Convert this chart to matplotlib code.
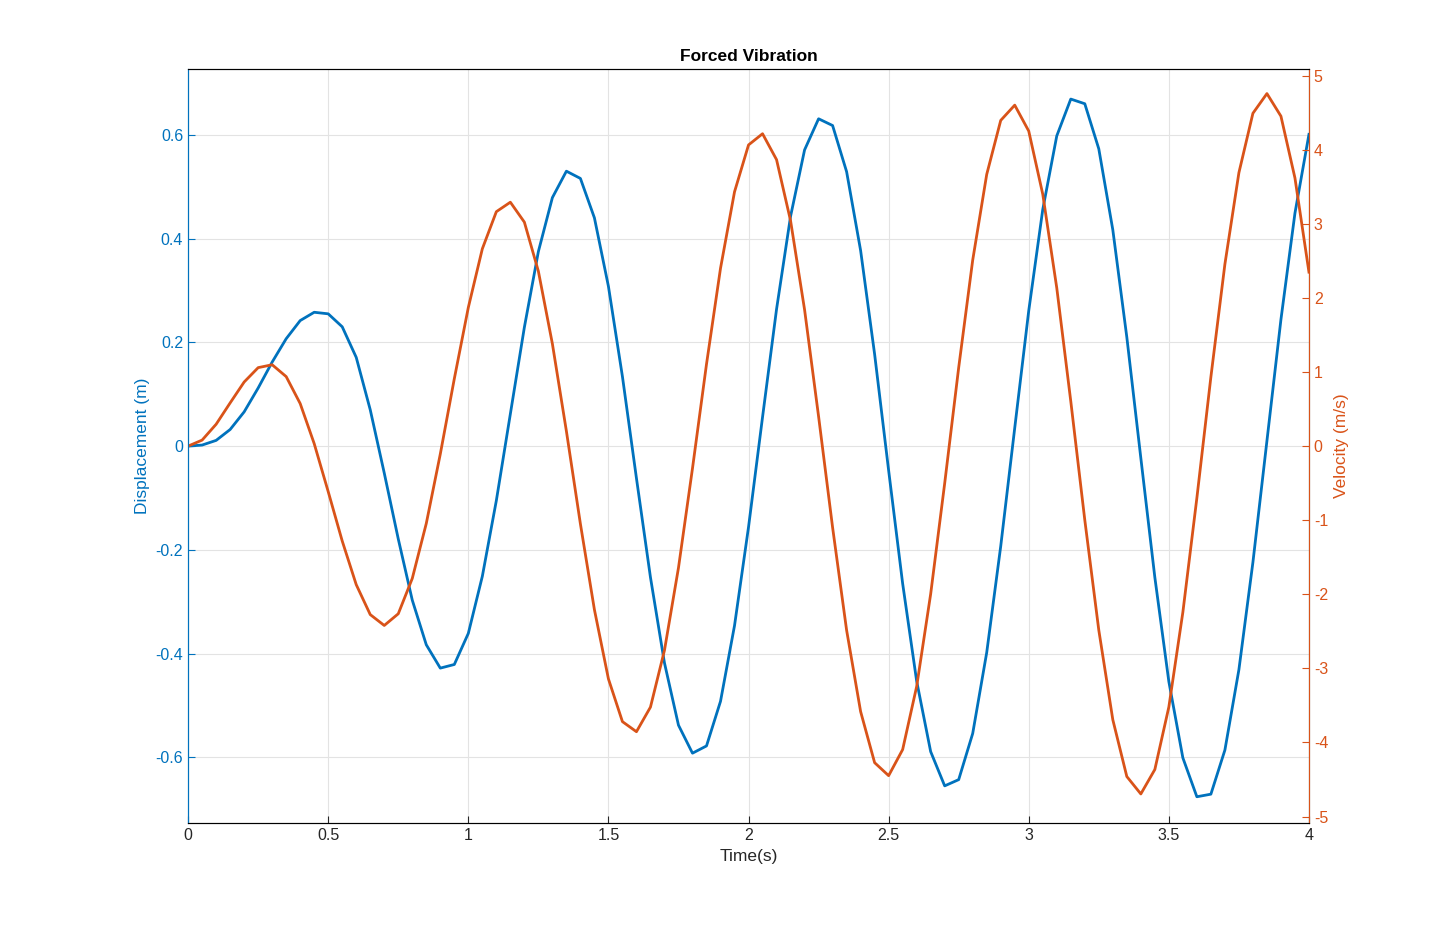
import matplotlib
matplotlib.use("Agg")
import matplotlib.pyplot as plt

plt.rcParams['font.family'] = ['Liberation Sans', 'DejaVu Sans']

time = [i * 0.05 for i in range(81)]
disp = [0.000, 0.002, 0.011, 0.032, 0.066, 0.112, 0.162, 0.207, 0.242, 0.258,
	0.255, 0.230, 0.171, 0.070, -0.052, -0.179, -0.297, -0.383, -0.428, -0.421,
	-0.361, -0.251, -0.105, 0.062, 0.229, 0.375, 0.479, 0.530, 0.516, 0.440,
	0.308, 0.134, -0.062, -0.253, -0.418, -0.538, -0.592, -0.578, -0.492, -0.346,
	-0.156, 0.056, 0.264, 0.443, 0.571, 0.631, 0.618, 0.529, 0.377, 0.177,
	-0.047, -0.265, -0.453, -0.589, -0.655, -0.643, -0.554, -0.398, -0.193, 0.035,
	0.261, 0.456, 0.598, 0.669, 0.660, 0.573, 0.417, 0.210, -0.023, -0.253,
	-0.454, -0.601, -0.676, -0.671, -0.586, -0.431, -0.224, 0.010, 0.244, 0.449,
	0.601]
vel = [0.000, 0.081, 0.295, 0.583, 0.865, 1.059, 1.098, 0.938, 0.574, 0.033,
	-0.615, -1.281, -1.870, -2.274, -2.421, -2.263, -1.786, -1.044, -0.107, 0.909,
	1.871, 2.663, 3.164, 3.292, 3.023, 2.360, 1.381, 0.202, -1.050, -2.208,
	-3.142, -3.719, -3.855, -3.523, -2.756, -1.642, -0.300, 1.106, 2.400, 3.432,
	4.065, 4.216, 3.866, 3.042, 1.841, 0.400, -1.098, -2.485, -3.583, -4.273,
	-4.448, -4.096, -3.245, -1.996, -0.503, 1.060, 2.510, 3.667, 4.396, 4.602,
	4.252, 3.400, 2.135, 0.605, -0.997, -2.484, -3.693, -4.460, -4.695, -4.365,
	-3.521, -2.242, -0.700, 0.933, 2.455, 3.690, 4.492, 4.758, 4.453, 3.619,
	2.348]

xticks = [0, 0.5, 1, 1.5, 2, 2.5, 3, 3.5, 4]
lticks = [-0.6, -0.4, -0.2, 0, 0.2, 0.4, 0.6]
rticks = [-5, -4, -3, -2, -1, 0, 1, 2, 3, 4, 5]

blue = "#0072BD"
orange = "#D95319"
dark = "#262626"

def fmt(v):
	return "%g" % v

fig = plt.figure(figsize=(14.47, 9.26), dpi=100)
ax = fig.add_axes([0.130, 0.111, 0.7746, 0.8145])
ax.plot(time, disp, color=blue, lw=2)
ax.set_xlim(0, 4)
ax.set_ylim(-0.727, 0.727)
ax.set_xticks(xticks)
ax.set_xticklabels([fmt(v) for v in xticks])
ax.set_yticks(lticks)
ax.set_yticklabels([fmt(v) for v in lticks])
ax.grid(True, color="#e3e3e3", lw=0.8)
ax.tick_params(direction="in", labelsize=11.5, length=5, color=dark, labelcolor=dark)
ax.tick_params(axis="y", colors=blue, labelcolor=blue)
ax.set_xlabel("Time(s)", fontsize=12.5, color=dark)
ax.set_ylabel("Displacement (m)", fontsize=12.5, color=blue)
ax.set_title("Forced Vibration", fontsize=12.5, fontweight="bold")
for side in ["top", "bottom"]:
	ax.spines[side].set_color(dark)
ax.spines["left"].set_color(blue)

ax2 = ax.twinx()
ax2.plot(time, vel, color=orange, lw=2)
ax2.set_ylim(-5.09, 5.09)
ax2.set_yticks(rticks)
ax2.set_yticklabels([fmt(v) for v in rticks])
ax2.tick_params(direction="in", labelsize=11.5, length=5, colors=orange)
ax2.set_ylabel("Velocity (m/s)", fontsize=12.5, color=orange)
ax2.spines["right"].set_color(orange)
ax2.spines["left"].set_color(blue)

fig.savefig("out.png", dpi=100)
